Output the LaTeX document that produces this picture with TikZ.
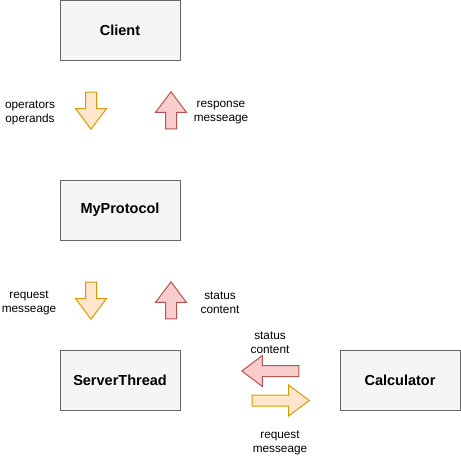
\documentclass[tikz,border=0pt]{standalone}
\usepackage{fontspec}
\setmainfont{Liberation Sans}
\usetikzlibrary{shapes.arrows}
\definecolor{boxfill}{HTML}{F5F5F5}
\definecolor{boxline}{HTML}{666666}
\definecolor{reqfill}{HTML}{FFE6CC}
\definecolor{reqline}{HTML}{D79B00}
\definecolor{resfill}{HTML}{F8CECC}
\definecolor{resline}{HTML}{B85450}

\begin{document}
\begin{tikzpicture}[x=1pt, y=-1pt,
    block/.style={rectangle, draw=boxline, fill=boxfill, line width=1pt,
      minimum width=120pt, minimum height=60pt, inner sep=0pt,
      font=\fontsize{14.5}{17}\selectfont\bfseries},
    fat/.style={single arrow, line width=1pt, inner sep=5pt, anchor=tip,
      single arrow head extend=10pt, single arrow tip angle=74},
    lbl/.style={align=center, inner sep=0pt, font=\fontsize{11.8}{14}\selectfont}]
  \useasboundingbox (0,0) rectangle (461,461);
  % First we draw the blocks
  \foreach \pos/\name/\txt in {{(120,30)/client/Client}, {(120,210)/protocol/MyProtocol},
                               {(120,380)/server/ServerThread}, {(400,380)/calc/Calculator}}
    \node[block] (\name) at \pos {\txt};
  % Then the fat arrows between them (placed by their tips)
  \foreach \pos/\name/\rot/\len/\fc/\dc in {{(91,130)/ask/270/37/reqfill/reqline},
                               {(171,91)/answer/90/37/resfill/resline},
                               {(91,320)/forward/270/37/reqfill/reqline},
                               {(171,281)/reply/90/37/resfill/resline},
                               {(241,371)/result/180/57/resfill/resline},
                               {(310,400.5)/compute/0/57/reqfill/reqline}}
    \node[fat, shape border rotate=\rot, minimum height=\len, fill=\fc, draw=\dc] (\name) at \pos {};
  % and the labels beside them
  \foreach \pos/\name/\txt in {{(30,113)/asklbl/operators\\operands}, {(221,113)/answerlbl/response\\messeage},
                               {(29,302.5)/forwardlbl/request\\messeage}, {(220,302.5)/replylbl/status\\content},
                               {(270,342.5)/resultlbl/status\\content}, {(280,442.5)/computelbl/request\\messeage}}
    \node[lbl] (\name) at \pos {\txt};
\end{tikzpicture}
\end{document}
